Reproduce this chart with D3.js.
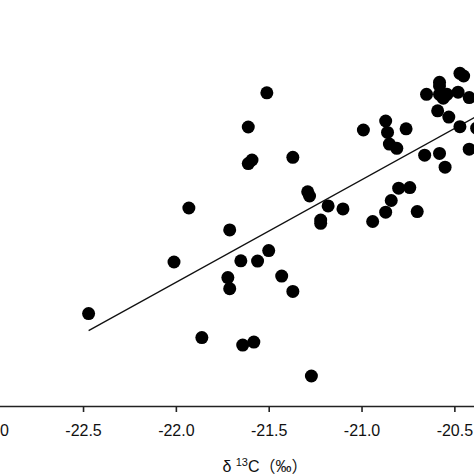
<!DOCTYPE html>
<html>
<head>
<meta charset="utf-8">
<script src="https://cdn.jsdelivr.net/npm/d3@7"></script>
<style>
  body { margin: 0; background: #fff; }
  svg { display: block; }
</style>
</head>
<body>
<div id="chart"></div>
<script>
// δ13C (x) values
var d13C = [-22.47, -22.01, -21.93, -21.86, -21.71, -21.72, -21.71, -21.65, -21.64, -21.61,
            -21.61, -21.59, -21.58, -21.56, -21.51, -21.50, -21.43, -21.37, -21.37, -21.29,
            -21.28, -21.27, -21.22, -21.22, -21.18, -21.10, -20.99, -20.94, -20.87, -20.87,
            -20.86, -20.85, -20.84, -20.81, -20.80, -20.76, -20.74, -20.70, -20.66, -20.65,
            -20.59, -20.58, -20.58, -20.58, -20.58, -20.56, -20.55, -20.54, -20.53, -20.48,
            -20.47, -20.47, -20.45, -20.42, -20.42, -20.38];
// y values (axis not visible in the crop, arbitrary units)
var yVals = [3.08, 4.80, 6.60, 2.28, 5.87, 4.28, 3.91, 4.84, 2.03, 9.30,
             8.08, 8.20, 2.13, 4.83, 10.44, 5.18, 4.33, 8.29, 3.82, 7.14,
             7.00, 1.00, 6.20, 6.09, 6.67, 6.57, 9.20, 6.15, 6.46, 9.50,
             9.12, 8.73, 6.85, 8.59, 7.26, 9.24, 7.28, 6.48, 8.36, 10.39,
             9.84, 8.42, 10.79, 10.67, 10.39, 10.26, 7.96, 10.39, 9.63, 10.46,
             9.31, 11.09, 11.00, 10.28, 8.56, 9.26];
var xTicks = [-23.0, -22.5, -22.0, -21.5, -21.0, -20.5, -20.0];
// fitted line y = a*x + b
var fitSlope = 3.42;
var fitIntercept = 79.36;

var width = 474, height = 474;

var svg = d3.select('#chart')
    .append('svg')
    .attr('width', width)
    .attr('height', height);

var x = d3.scaleLinear()
    .domain([-23.0, -20.0])
    .range([-9.8, 547.2]);

var y = d3.scaleLinear()
    .domain([0, 12])
    .range([406, 46]);

var data = d13C.map(function(v, i) { return {x: v, y: yVals[i]}; });

///////////////// axis /////////////////
var xAxis = d3.axisBottom(x)
    .tickValues(xTicks)
    .tickSize(6)
    .tickSizeOuter(0)
    .tickPadding(13);

var gx = svg.append('g')
    .attr('transform', 'translate(0,' + y(0) + ')')
    .call(xAxis);

gx.select('.domain').attr('stroke', '#222').attr('stroke-width', 1.6);
gx.selectAll('.tick line').attr('stroke', '#222').attr('stroke-width', 1.6);
gx.selectAll('.tick text')
    .attr('fill', '#111')
    .attr('font-family', '"Liberation Sans", Arial, sans-serif')
    .attr('font-size', 16)
    .text(function(d) { return d3.format('.1f')(d).replace('−', '-'); });

///////////////// axis title /////////////////
var title = svg.append('text')
    .attr('x', 265)
    .attr('y', 471.5)
    .attr('text-anchor', 'middle')
    .attr('fill', '#111')
    .attr('font-family', '"Liberation Sans", Arial, sans-serif')
    .attr('font-size', 16);
title.append('tspan').text('δ ');
title.append('tspan').attr('font-size', 11).attr('dy', -6).text('13');
title.append('tspan').attr('dy', 6).text('C');
title.append('tspan').attr('font-family', '"Noto Sans CJK SC", sans-serif').text('（');
title.append('tspan').text('‰');
title.append('tspan').attr('font-family', '"Noto Sans CJK SC", sans-serif').text('）');

///////////////// fit line /////////////////
var xExt = d3.extent(d13C);
var fitData = xExt.map(function(v) { return {x: v, y: fitSlope * v + fitIntercept}; });

var line = d3.line()
    .x(function(d) { return x(d.x); })
    .y(function(d) { return y(d.y); });

svg.append('path')
    .datum(fitData)
    .attr('d', line)
    .attr('fill', 'none')
    .attr('stroke', '#111')
    .attr('stroke-width', 1.3);

///////////////// points /////////////////
svg.selectAll('.dot')
    .data(data)
    .enter()
    .append('circle')
    .attr('class', 'dot')
    .attr('cx', function(d) { return x(d.x); })
    .attr('cy', function(d) { return y(d.y); })
    .attr('r', 6.5)
    .attr('fill', '#000');
</script>
</body>
</html>
